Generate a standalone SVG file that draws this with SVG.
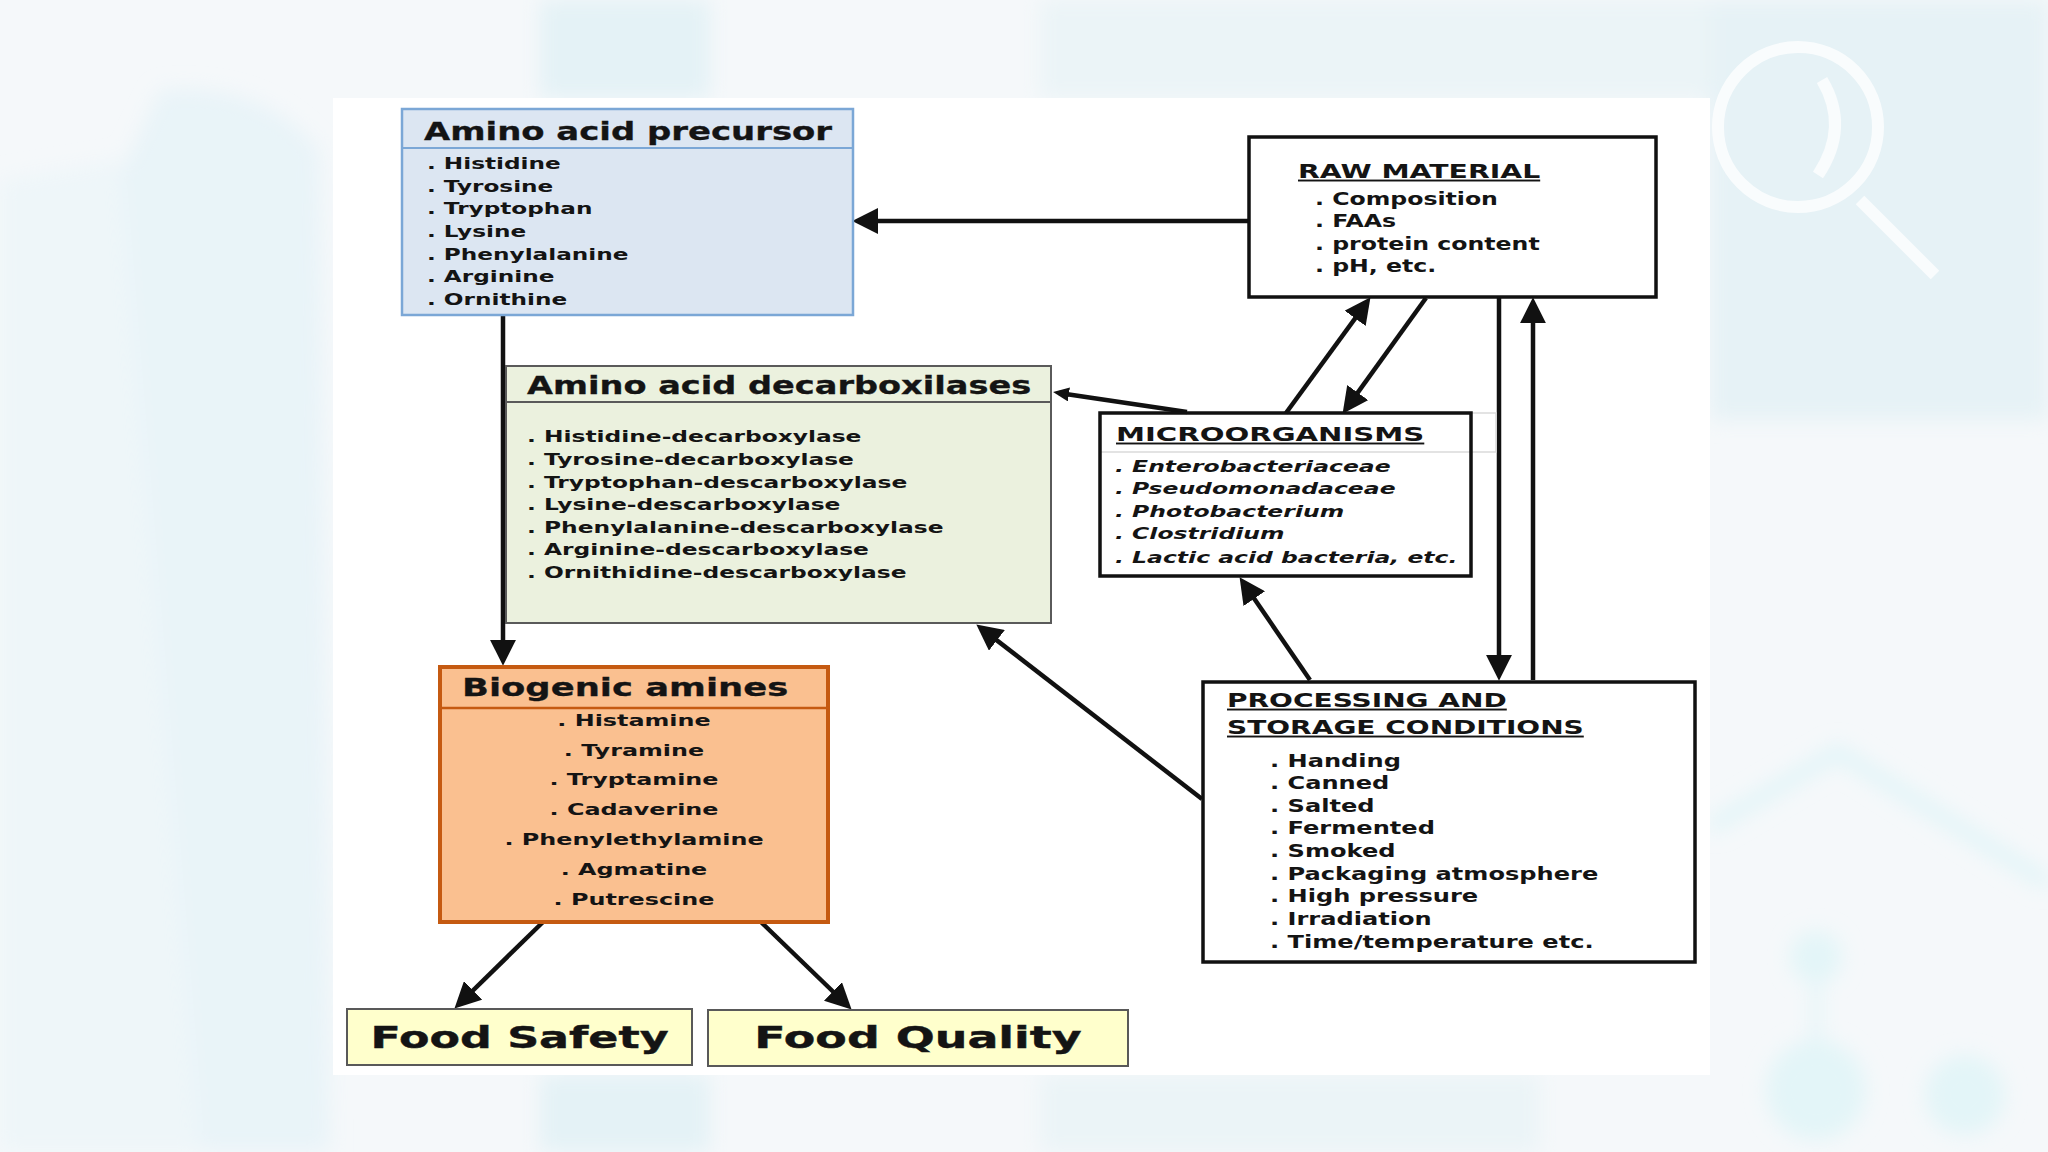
<svg xmlns="http://www.w3.org/2000/svg" width="2048" height="1152" viewBox="0 0 2048 1152">
<defs>
<style>
.t{font-family:"DejaVu Sans","Liberation Sans",sans-serif;font-weight:bold;fill:#141414}
.h24{font-size:24px;stroke:#141414;stroke-width:0.3}
.h19{font-size:19px;text-decoration:underline}
.i165{font-size:16.5px}
.i175{font-size:17.5px}
.it{font-style:italic}
.f30{font-size:30px;stroke:#141414;stroke-width:0.4}
.bx{fill:#ffffff;stroke:#111;stroke-width:3.5}
.ln{fill:none;stroke:#111;stroke-width:4.5}
.wm{fill:none;stroke:#ffffff;stroke-width:12;opacity:0.75}
</style>
<filter id="soft" x="-10%" y="-10%" width="120%" height="120%"><feGaussianBlur stdDeviation="10"/></filter>
<marker id="ah" markerUnits="userSpaceOnUse" markerWidth="26" markerHeight="26" viewBox="0 0 24 24" refX="14" refY="12" orient="auto">
<path d="M0,0 L24,12 L0,24 z" fill="#111"/>
</marker>
<marker id="ahs" markerUnits="userSpaceOnUse" markerWidth="16" markerHeight="14" viewBox="0 0 16 14" refX="10" refY="7" orient="auto">
<path d="M0,0 L16,7 L0,14 z" fill="#111"/>
</marker>
</defs>

<g id="background">
<rect x="0" y="0" width="2048" height="1152" fill="#f5f8fa"/>
<g filter="url(#soft)">
<path d="M160,90 Q260,80 320,150 L330,1152 L200,1152 Q120,700 60,300 z" fill="#e6f3f8" opacity="0.8"/>
<path d="M0,180 L120,160 L200,1152 L0,1152 z" fill="#eef6f9"/>
<rect x="540" y="0" width="170" height="98" fill="#e4f2f6"/>
<rect x="1040" y="0" width="670" height="98" fill="#ebf4f7"/>
<rect x="1710" y="0" width="338" height="420" fill="#e6f2f6"/>
<path d="M1710,827 L1838,752 L2048,883" fill="none" stroke="#e0f4f8" stroke-width="14"/>
<circle cx="1816" cy="957" r="26" fill="#e3f5f8"/>
<line x1="1816" y1="980" x2="1816" y2="1060" stroke="#e3f5f8" stroke-width="10"/>
<circle cx="1816" cy="1090" r="50" fill="#e3f5f8"/>
<circle cx="1965" cy="1095" r="40" fill="#e3f5f8"/>
<rect x="540" y="1075" width="170" height="77" fill="#e4f2f6"/>
<rect x="1040" y="1075" width="500" height="77" fill="#ebf4f7"/>
</g>
<circle cx="1798" cy="127" r="80" class="wm"/>
<path d="M1822,80 Q1850,127 1818,175" class="wm" stroke-width="10"/>
<line x1="1860" y1="200" x2="1935" y2="275" class="wm" stroke-width="20"/>
<rect x="333" y="98" width="1377" height="977" fill="#ffffff"/>
</g>

<g id="connectors">
<line class="ln" x1="1249" y1="221" x2="863" y2="221" marker-end="url(#ah)"/>
<line class="ln" x1="503" y1="315" x2="503" y2="655" marker-end="url(#ah)"/>
<line class="ln" x1="1187" y1="412" x2="1059" y2="393" stroke-width="3" marker-end="url(#ahs)"/>
<line class="ln" x1="1286" y1="413" x2="1364.1" y2="306.1" marker-end="url(#ah)"/>
<line class="ln" x1="1426" y1="298" x2="1348.9" y2="404.9" marker-end="url(#ah)"/>
<line class="ln" x1="1499" y1="298" x2="1499" y2="670" marker-end="url(#ah)"/>
<line class="ln" x1="1533" y1="680" x2="1533" y2="308" marker-end="url(#ah)"/>
<line class="ln" x1="1310" y1="680" x2="1245.7" y2="586.2" marker-end="url(#ah)"/>
<line class="ln" x1="1202" y1="799" x2="984.9" y2="631.1" marker-end="url(#ah)"/>
<line class="ln" x1="543" y1="922" x2="462.2" y2="1001" marker-end="url(#ah)"/>
<line class="ln" x1="761" y1="922" x2="843.8" y2="1002" marker-end="url(#ah)"/>
</g>

<g id="precursor">
<rect x="402" y="109" width="451" height="206" fill="#dce6f2" stroke="#7ba7d6" stroke-width="2.5"/>
<line x1="402" y1="148" x2="853" y2="148" stroke="#7ba7d6" stroke-width="2"/>
<g transform="translate(424 0) scale(1.413 1)"><text class="t h24" x="0" y="140">Amino acid precursor</text></g>
<g transform="translate(427 0) scale(1.405 1)" class="t i165">
<text x="0" y="169">. Histidine</text>
<text x="0" y="192">. Tyrosine</text>
<text x="0" y="214">. Tryptophan</text>
<text x="0" y="237">. Lysine</text>
<text x="0" y="260">. Phenylalanine</text>
<text x="0" y="282">. Arginine</text>
<text x="0" y="305">. Ornithine</text>
</g>
</g>

<g id="decarboxylases">
<rect x="506" y="366" width="545" height="257" fill="#ebf1de" stroke="#5a5a5a" stroke-width="2"/>
<line x1="506" y1="402" x2="1051" y2="402" stroke="#5a5a5a" stroke-width="2"/>
<g transform="translate(527 0) scale(1.4 1)"><text class="t h24" x="0" y="394">Amino acid decarboxilases</text></g>
<g transform="translate(527 0) scale(1.415 1)" class="t i165">
<text x="0" y="442">. Histidine-decarboxylase</text>
<text x="0" y="465">. Tyrosine-decarboxylase</text>
<text x="0" y="488">. Tryptophan-descarboxylase</text>
<text x="0" y="510">. Lysine-descarboxylase</text>
<text x="0" y="533">. Phenylalanine-descarboxylase</text>
<text x="0" y="555">. Arginine-descarboxylase</text>
<text x="0" y="578">. Ornithidine-descarboxylase</text>
</g>
</g>

<g id="biogenic">
<rect x="440" y="667" width="388" height="255" fill="#fac090" stroke="#c55a11" stroke-width="4"/>
<line x1="440" y1="708" x2="828" y2="708" stroke="#c55a11" stroke-width="2.5"/>
<g transform="translate(462 0) scale(1.474 1)"><text class="t h24" x="0" y="696">Biogenic amines</text></g>
<g transform="translate(634 0) scale(1.446 1)" class="t i165" text-anchor="middle">
<text x="0" y="726">. Histamine</text>
<text x="0" y="756">. Tyramine</text>
<text x="0" y="785">. Tryptamine</text>
<text x="0" y="815">. Cadaverine</text>
<text x="0" y="845">. Phenylethylamine</text>
<text x="0" y="875">. Agmatine</text>
<text x="0" y="905">. Putrescine</text>
</g>
</g>

<g id="raw-material">
<rect class="bx" x="1249" y="137" width="407" height="160"/>
<g transform="translate(1298 0) scale(1.49 1)"><text class="t h19" x="0" y="178">RAW MATERIAL</text></g>
<g transform="translate(1315 0) scale(1.35 1)" class="t i175">
<text x="0" y="205">. Composition</text>
<text x="0" y="227">. FAAs</text>
<text x="0" y="250">. protein content</text>
<text x="0" y="272">. pH, etc.</text>
</g>
</g>

<g id="microorganisms">
<rect x="1100" y="413" width="396" height="39" fill="none" stroke="#dadada" stroke-width="1.5"/>
<rect x="1100" y="413" width="371" height="163" fill="none" stroke="#111" stroke-width="3.5"/>
<g transform="translate(1116 0) scale(1.534 1)"><text class="t h19" x="0" y="441">MICROORGANISMS</text></g>
<g transform="translate(1115 0) scale(1.424 1)" class="t i165 it">
<text x="0" y="472">. Enterobacteriaceae</text>
<text x="0" y="494">. Pseudomonadaceae</text>
<text x="0" y="517">. Photobacterium</text>
<text x="0" y="539">. Clostridium</text>
<text x="0" y="563">. Lactic acid bacteria, etc.</text>
</g>
</g>

<g id="processing">
<rect class="bx" x="1203" y="682" width="492" height="280"/>
<g transform="translate(1227 0) scale(1.475 1)" class="t h19" style="white-space:pre">
<text x="0" y="707">PROCESSING AND </text>
<text x="0" y="734">STORAGE CONDITIONS</text>
</g>
<g transform="translate(1270 0) scale(1.377 1)" class="t i175">
<text x="0" y="767">. Handing</text>
<text x="0" y="789">. Canned</text>
<text x="0" y="812">. Salted</text>
<text x="0" y="834">. Fermented</text>
<text x="0" y="857">. Smoked</text>
<text x="0" y="880">. Packaging atmosphere</text>
<text x="0" y="902">. High pressure</text>
<text x="0" y="925">. Irradiation</text>
<text x="0" y="948">. Time/temperature etc.</text>
</g>
</g>

<g id="food-safety">
<rect x="347" y="1009" width="345" height="56" fill="#ffffcc" stroke="#595959" stroke-width="2"/>
<g transform="translate(519.5 0) scale(1.48 1)"><text class="t f30" x="0" y="1048" text-anchor="middle">Food Safety</text></g>
</g>

<g id="food-quality">
<rect x="708" y="1010" width="420" height="56" fill="#ffffcc" stroke="#595959" stroke-width="2"/>
<g transform="translate(918 0) scale(1.53 1)"><text class="t f30" x="0" y="1048" text-anchor="middle">Food Quality</text></g>
</g>
</svg>
